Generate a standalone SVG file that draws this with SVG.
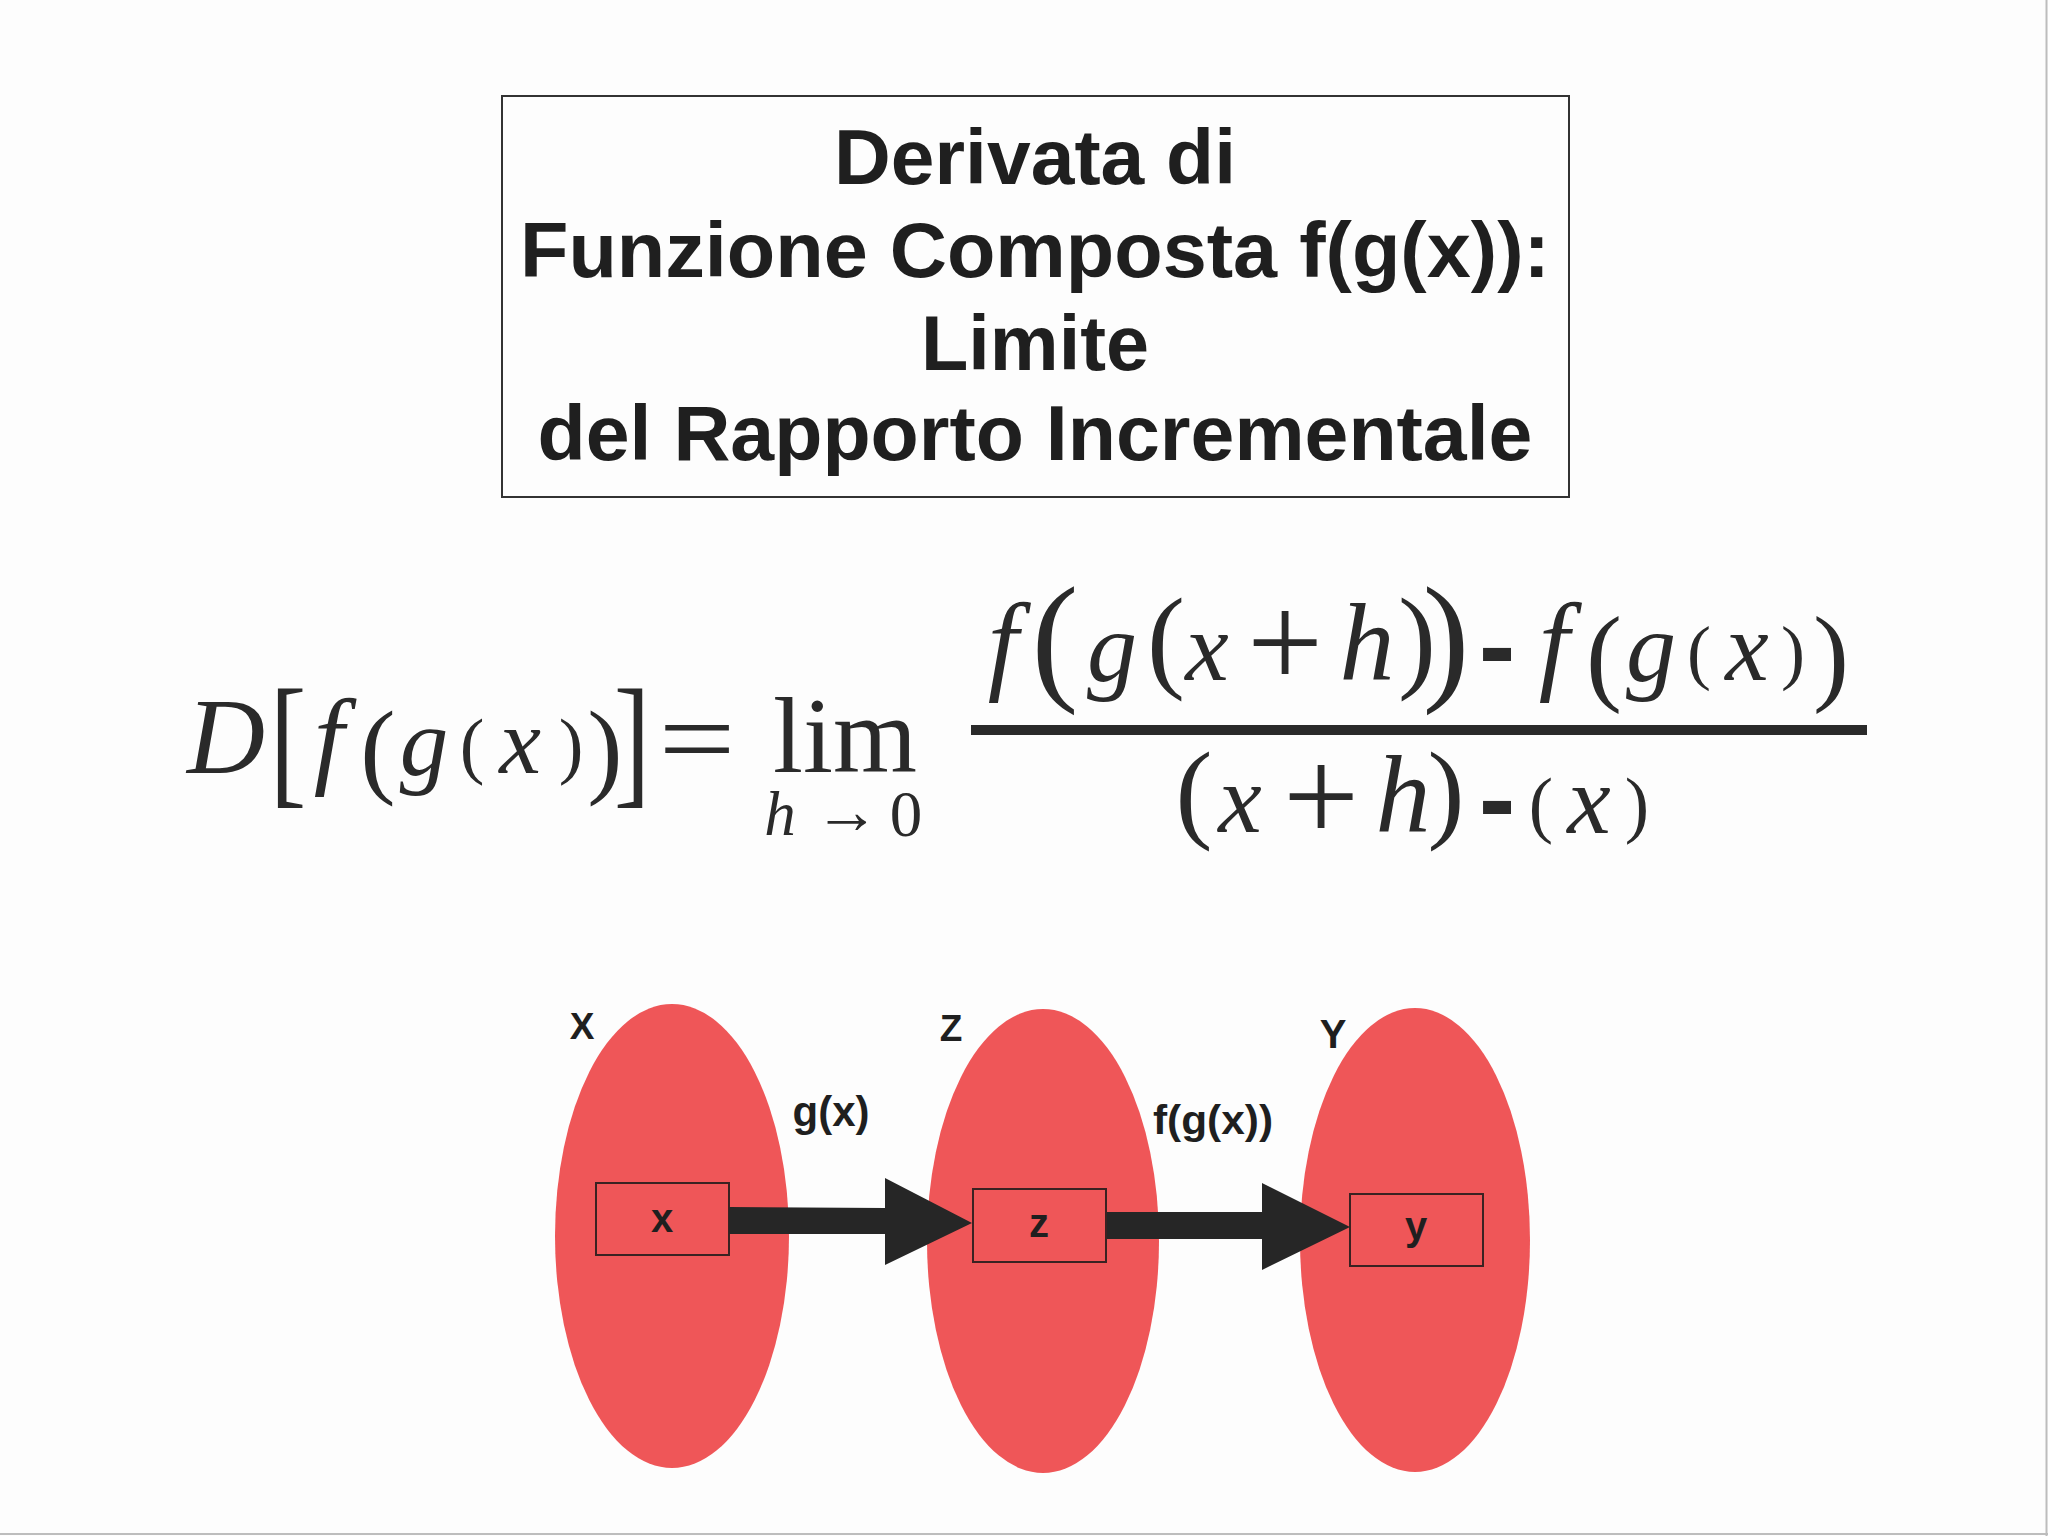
<svg xmlns="http://www.w3.org/2000/svg" width="2048" height="1536" viewBox="0 0 2048 1536">
<style>
.t{font-family:"Liberation Sans",Arial,sans-serif;font-weight:bold;fill:#1f1f1f;text-anchor:middle}
.mi{font-family:"Liberation Serif","Times New Roman",serif;font-style:italic;fill:#2a2a2a;text-anchor:middle}
.mr{font-family:"Liberation Serif","Times New Roman",serif;fill:#2a2a2a;text-anchor:middle}
.dash{font-family:"Liberation Sans",Arial,sans-serif;font-weight:bold;fill:#2a2a2a;text-anchor:middle}
.set{fill:#EF5658}
.box{fill:none;stroke:#3a2222;stroke-width:2}
.lbl{font-family:"Liberation Sans",Arial,sans-serif;font-weight:bold;fill:#1f1f1f;text-anchor:middle}
.arrow{fill:#262626}
</style>
<rect x="0" y="0" width="2048" height="1536" fill="#fdfdfd"/>
<line x1="2046.5" y1="0" x2="2046.5" y2="1536" stroke="#bdbdbd" stroke-width="2"/>
<line x1="0" y1="1534" x2="2048" y2="1534" stroke="#bdbdbd" stroke-width="2"/>

<g id="title">
<rect x="502" y="96" width="1067" height="401" fill="none" stroke="#333" stroke-width="2"/>
<text class="t" x="1035" y="184" font-size="77" textLength="402" lengthAdjust="spacingAndGlyphs">Derivata di</text>
<text class="t" x="1035" y="277" font-size="77" textLength="1030" lengthAdjust="spacingAndGlyphs">Funzione Composta f(g(x)):</text>
<text class="t" x="1035" y="370" font-size="77" textLength="228" lengthAdjust="spacingAndGlyphs">Limite</text>
<text class="t" x="1035" y="460" font-size="77" textLength="995" lengthAdjust="spacingAndGlyphs">del Rapporto Incrementale</text>
</g>

<g id="formula">
<text class="mi" x="226" y="773" font-size="108">D</text>
<text class="mr" transform="translate(288,789) scale(1,1.31)" font-size="110">[</text>
<text class="mi" x="329" y="774" font-size="109">f</text>
<text class="mr" x="378" y="784" font-size="106">(</text>
<text class="mi" x="424" y="775" font-size="97">g</text>
<text class="mr" x="472" y="770" font-size="74">(</text>
<text class="mi" x="520" y="773" font-size="94">x</text>
<text class="mr" x="571" y="770" font-size="74">)</text>
<text class="mr" x="605" y="784" font-size="106">)</text>
<text class="mr" transform="translate(632,789) scale(1,1.31)" font-size="110">]</text>
<text class="mr" transform="translate(697,776) scale(1.22,1)" font-size="112">=</text>
<text class="mr" x="845" y="772" font-size="108">lim</text>
<text class="mi" x="780" y="835" font-size="63">h</text>
<text class="mr" x="847" y="833" font-size="65">→</text>
<text class="mr" x="906" y="836" font-size="65">0</text>

<text class="mi" x="1003" y="680" font-size="110">f</text>
<text class="mr" x="1055" y="685" font-size="141">(</text>
<text class="mi" x="1112" y="681" font-size="100">g</text>
<text class="mr" x="1166" y="677" font-size="114">(</text>
<text class="mi" x="1207" y="680" font-size="98">x</text>
<text class="mr" x="1285" y="688" font-size="135">+</text>
<text class="mi" x="1367" y="680" font-size="110">h</text>
<text class="mr" x="1417" y="677" font-size="114">)</text>
<text class="mr" x="1446" y="685" font-size="141">)</text>
<text class="dash" x="1497" y="683" font-size="110">-</text>
<text class="mi" x="1554" y="680" font-size="110">f</text>
<text class="mr" x="1604" y="691" font-size="108">(</text>
<text class="mi" x="1651" y="681" font-size="100">g</text>
<text class="mr" x="1699" y="676" font-size="72">(</text>
<text class="mi" x="1747" y="680" font-size="98">x</text>
<text class="mr" x="1793" y="676" font-size="72">)</text>
<text class="mr" x="1831" y="691" font-size="108">)</text>
<rect x="971" y="725" width="896" height="10" fill="#2a2a2a"/>
<text class="mr" x="1194" y="828" font-size="111">(</text>
<text class="mi" x="1240" y="832" font-size="98">x</text>
<text class="mr" x="1321" y="842" font-size="135">+</text>
<text class="mi" x="1403" y="832" font-size="110">h</text>
<text class="mr" x="1446" y="828" font-size="111">)</text>
<text class="dash" x="1497" y="836" font-size="110">-</text>
<text class="mr" x="1541" y="829" font-size="73">(</text>
<text class="mi" x="1589" y="833" font-size="98">x</text>
<text class="mr" x="1637" y="829" font-size="73">)</text>
</g>

<g id="set-X">
<ellipse class="set" cx="672" cy="1236" rx="117" ry="232"/>
<text class="lbl" x="582" y="1039" font-size="37">X</text>
</g>
<g id="set-Z">
<ellipse class="set" cx="1043" cy="1241" rx="116" ry="232"/>
<text class="lbl" x="951" y="1041" font-size="37">Z</text>
</g>
<g id="set-Y">
<ellipse class="set" cx="1415" cy="1240" rx="115" ry="232"/>
<text class="lbl" x="1333" y="1048" font-size="40">Y</text>
</g>
<g id="node-x">
<rect class="box" x="596" y="1183" width="133" height="72"/>
<text class="lbl" x="662" y="1232" font-size="40">x</text>
</g>
<g id="node-z">
<rect class="box" x="973" y="1189" width="133" height="73"/>
<text class="lbl" x="1039" y="1237" font-size="40">z</text>
</g>
<g id="node-y">
<rect class="box" x="1350" y="1194" width="133" height="72"/>
<text class="lbl" x="1416" y="1240" font-size="40">y</text>
</g>

<g id="connectors">
<polygon class="arrow" points="729,1207 885,1208 885,1178 972,1223 885,1265 885,1234 729,1234"/>
<polygon class="arrow" points="1107,1212 1262,1212 1262,1183 1350,1227 1262,1270 1262,1239 1107,1239"/>
<text class="lbl" x="831" y="1126" font-size="42" textLength="77" lengthAdjust="spacingAndGlyphs">g(x)</text>
<text class="lbl" x="1213" y="1134" font-size="40" textLength="120" lengthAdjust="spacingAndGlyphs">f(g(x))</text>
</g>
</svg>
